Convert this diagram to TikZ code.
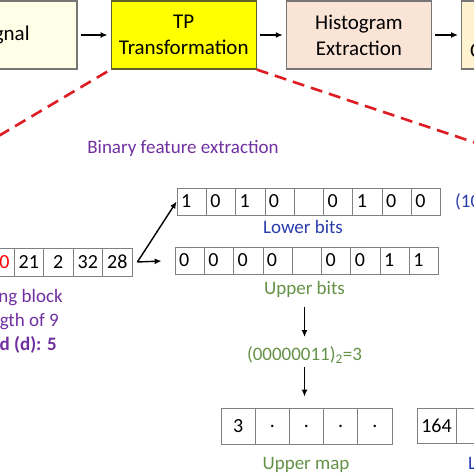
\documentclass[tikz,border=0pt]{standalone}
\usepackage{fontspec}
\setmainfont{Carlito}
\usepackage{tikz}
\usetikzlibrary{positioning, arrows.meta, calc}

\definecolor{boxline}{RGB}{118,118,118}
\definecolor{tpline}{RGB}{96,96,40}
\definecolor{sigfill}{RGB}{255,255,232}
\definecolor{tpfill}{RGB}{255,255,0}
\definecolor{histfill}{RGB}{250,228,214}
\definecolor{clsfill}{RGB}{255,242,206}
\definecolor{cellline}{RGB}{128,128,128}
\definecolor{dashred}{RGB}{222,28,36}
\definecolor{txtpurple}{RGB}{112,48,160}
\definecolor{txtblue}{RGB}{40,60,170}
\definecolor{txtgreen}{RGB}{100,145,70}

\begin{document}
\begin{tikzpicture}[x=1pt,y=-1pt,
        font=\fontsize{19}{23}\selectfont,
        blk/.style={draw=boxline, line width=1.2pt, minimum width=145pt, minimum height=68pt,
            align=center, font=\fontsize{21}{26}\selectfont},
        cell/.style={draw=cellline, line width=0.8pt, inner sep=0pt, font=\fontsize{20}{22}\selectfont},
        bit/.style={cell, minimum height=27pt, inner xsep=4pt, text width=21.3pt, align=left},
        arr/.style={-{Latex[length=7pt,width=6pt]}, line width=1.4pt},
        reddash/.style={draw=dashred, line width=2.6pt, dash pattern=on 12pt off 7pt},
        lbl/.style={inner sep=0pt}]
        \useasboundingbox (0,0) rectangle (474,474);
        \clip (0,0) rectangle (474,474);

        % pipeline
        \node[blk, fill=sigfill] (sig) at (4.5,35) {Signal};
        \node[blk, fill=tpfill, draw=tpline] (tp) [right=33pt of sig] {TP\\Transformation};
        \node[blk, fill=histfill] (hist) [right=29pt of tp] {Histogram\\Extraction};
        \node[blk, fill=clsfill, minimum width=128pt] (cls) [right=29pt of hist] {\strut\\Classification};

        \path[arr, shorten <=3pt, shorten >=3pt]
        (sig) edge (tp)
        (tp) edge (hist)
        (hist) edge (cls);

        % zoom lines
        \coordinate (ldash) at (-20,147);
        \coordinate (rdash) at (494,149);
        \draw[reddash, shorten <=4pt] (tp.south west) -- (ldash);
        \draw[reddash] (tp.south east) -- (rdash);

        \node[lbl, text=txtpurple] (bfe) at (183,148) {Binary feature extraction};

        % sliding block
        \foreach \v/\c [count=\i] in {20/red,21/black,2/black,32/black,28/black}
            \node[cell, minimum width=29.5pt, minimum height=28pt, text=\c] (s\i) at ({-0.75+29.5*(\i-1)},262) {\v};

        \node[lbl, text=txtpurple, anchor=east] (blk1) at (63,298) {Sliding block};
        \node[lbl, text=txtpurple, anchor=east] (blk2) at (59,322) {Length of 9};
        \node[lbl, text=txtpurple, anchor=east, font=\fontsize{19}{23}\selectfont\bfseries] (blk3) at (57,345) {Threshold (d): 5};

        % lower and upper bits
        \foreach \v [count=\i] in {1,0,1,0,{},0,1,0,0}
            \node[bit] (lo\i) at ({191.65+29.3*(\i-1)},201.5) {\v};
        \foreach \v [count=\i] in {0,0,0,0,{},0,0,1,1}
            \node[bit] (up\i) at ({189.65+29.3*(\i-1)},260.5) {\v};

        \node[lbl, text=txtblue] (lobits) at (303,227) {Lower bits};
        \node[lbl, text=txtgreen] (upbits) at (304.5,289) {Upper bits};
        \node[lbl, text=txtblue, anchor=west] (lonum) at (455,202) {(10100100)\textsubscript{2}=164};

        \coordinate (fork) at ([xshift=5pt]s5.east);
        \draw[arr] (fork) -- (lo1.west);
        \draw[arr, shorten >=13pt] (fork) -- (up1.west);

        % maps
        \node[lbl, text=txtgreen] (conv) at (304.5,355) {(00000011)\textsubscript{2}=3};
        \foreach \v [count=\i] in {3,.,.,.,.}
            \node[cell, minimum width=34.2pt, minimum height=36pt] (um\i) at ({238.1+34.2*(\i-1)},426) {\v};
        \foreach \v [count=\i] in {164,.,.,.,.}
            \node[cell, minimum width=39pt, minimum height=35pt] (lm\i) at ({436.5+39*(\i-1)},425.5) {\v};

        \draw[arr, shorten <=18pt, shorten >=18pt] (upbits.center) -- (conv.center);
        \draw[arr, shorten <=12pt, shorten >=11pt] (conv.center) -- (conv.center |- um3.north);

        \node[lbl, text=txtgreen, anchor=base] (umap) at (306,469) {Upper map};
        \node[lbl, text=txtblue, anchor=base west] (lmap) at (468,469) {Lower map};
    \end{tikzpicture}
\end{document}
